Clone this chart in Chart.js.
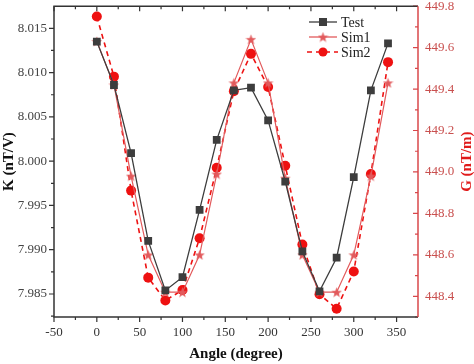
<!DOCTYPE html>
<html>
<head>
<meta charset="utf-8">
<script src="https://cdn.jsdelivr.net/npm/chart.js@4.4.1/dist/chart.umd.min.js"></script>
<style>
  html, body { margin: 0; padding: 0; background: #fff; }
  #wrap { width: 474px; height: 364px; position: relative; }
</style>
</head>
<body>
<div id="wrap"><canvas id="chart"></canvas></div>
<script>
// --- data -----------------------------------------------------------------
const angles = [0, 20, 40, 60, 80, 100, 120, 140, 160, 180, 200, 220, 240, 260, 280, 300, 320, 340];
const testK  = [8.0135, 8.0086, 8.0009, 7.9910, 7.9854, 7.9869, 7.9945, 8.0024, 8.0080,
                8.0083, 8.0046, 7.9977, 7.9898, 7.9853, 7.9891, 7.9982, 8.0080, 8.0133];
const sim1G  = [449.63, 449.42, 448.98, 448.60, 448.42, 448.42, 448.60, 448.99, 449.43,
                449.64, 449.43, 448.97, 448.60, 448.42, 448.42, 448.60, 448.98, 449.43];
const sim2G  = [449.75, 449.46, 448.91, 448.49, 448.38, 448.43, 448.68, 449.02, 449.39,
                449.57, 449.41, 449.03, 448.65, 448.41, 448.34, 448.52, 448.99, 449.53];
const seriesNames = ['Test', 'Sim1', 'Sim2'];
const xTitle = 'Angle (degree)';
const kTitle = 'K (nT/V)';
const gTitle = 'G (nT/m)';

const SERIF = '"Liberation Serif", "Times New Roman", serif';
const C_TEST = '#3d3d3d';
const C_SIM1 = '#e25a5c';
const C_SIM2 = '#ee1111';
const C_RAXIS = '#d8474a';

// filled 5-point star used as the Sim1 marker
function makeStar(size, color) {
    const c = document.createElement('canvas');
    c.width = size; c.height = size;
    const g = c.getContext('2d');
    const cx = size / 2, cy = size / 2 + 0.5, ro = size / 2, ri = ro * 0.42;
    g.beginPath();
    for (let i = 0; i < 10; i++) {
        const r = i % 2 ? ri : ro;
        const a = -Math.PI / 2 + i * Math.PI / 5;
        g.lineTo(cx + r * Math.cos(a), cy + r * Math.sin(a));
    }
    g.closePath();
    g.fillStyle = color;
    g.fill();
    return c;
}
const starImg = makeStar(11, C_SIM1);

const pts = ys => angles.map((x, i) => ({ x, y: ys[i] }));

// no label overflow padding, the plot box is fixed by hand
function noPad(s) { s.paddingTop = 0; s.paddingBottom = 0; s.paddingLeft = 0; s.paddingRight = 0; }

// frame, inner/outer ticks, legend and right title
const framePlugin = {
    id: 'frame',
    afterDraw(chart) {
        const { ctx, chartArea: a, scales } = chart;
        ctx.save();

        function minorVals(scale) {
            const v = scale.ticks.map(t => t.value);
            const out = [];
            const step = v[1] - v[0];
            for (let i = 0; i < v.length - 1; i++) out.push((v[i] + v[i + 1]) / 2);
            if (v[0] - step / 2 > scale.min) out.push(v[0] - step / 2);
            if (v[v.length - 1] + step / 2 < scale.max) out.push(v[v.length - 1] + step / 2);
            return out;
        }

        ctx.lineWidth = 1.2;
        // x ticks: bottom outward, top inward
        ctx.strokeStyle = '#333';
        ctx.beginPath();
        scales.x.ticks.forEach(t => {
            const px = scales.x.getPixelForValue(t.value);
            ctx.moveTo(px, a.bottom); ctx.lineTo(px, a.bottom + 5);
            ctx.moveTo(px, a.top); ctx.lineTo(px, a.top + 5);
        });
        minorVals(scales.x).forEach(v => {
            const px = scales.x.getPixelForValue(v);
            ctx.moveTo(px, a.bottom); ctx.lineTo(px, a.bottom + 3);
            ctx.moveTo(px, a.top); ctx.lineTo(px, a.top + 3);
        });
        // left ticks outward
        scales.y.ticks.forEach(t => {
            const py = scales.y.getPixelForValue(t.value);
            ctx.moveTo(a.left - 5, py); ctx.lineTo(a.left, py);
        });
        minorVals(scales.y).forEach(v => {
            const py = scales.y.getPixelForValue(v);
            ctx.moveTo(a.left - 3, py); ctx.lineTo(a.left, py);
        });
        ctx.stroke();

        // right ticks inward, red
        ctx.strokeStyle = C_RAXIS;
        ctx.beginPath();
        scales.y1.ticks.forEach(t => {
            const py = scales.y1.getPixelForValue(t.value);
            ctx.moveTo(a.right - 5, py); ctx.lineTo(a.right, py);
        });
        minorVals(scales.y1).forEach(v => {
            const py = scales.y1.getPixelForValue(v);
            ctx.moveTo(a.right - 3, py); ctx.lineTo(a.right, py);
        });
        ctx.stroke();

        // frame
        ctx.lineWidth = 1.5;
        ctx.strokeStyle = '#333';
        ctx.beginPath();
        ctx.moveTo(a.right, a.top); ctx.lineTo(a.left, a.top);
        ctx.lineTo(a.left, a.bottom); ctx.lineTo(a.right, a.bottom);
        ctx.stroke();
        ctx.strokeStyle = C_RAXIS;
        ctx.beginPath();
        ctx.moveTo(a.right, a.top); ctx.lineTo(a.right, a.bottom);
        ctx.stroke();

        // right axis title, reading bottom to top
        ctx.save();
        ctx.translate(467, (a.top + a.bottom) / 2);
        ctx.rotate(-Math.PI / 2);
        ctx.font = 'bold 15px ' + SERIF;
        ctx.fillStyle = '#e01b1b';
        ctx.textAlign = 'center';
        ctx.textBaseline = 'middle';
        ctx.fillText(gTitle, 0, 0);
        ctx.restore();

        // legend: line + marker + label
        const lx0 = 309, lx1 = 337, mx = 323, tx = 341;
        const rows = [22, 37, 52];
        ctx.font = '14px ' + SERIF;
        ctx.textBaseline = 'middle';
        ctx.textAlign = 'left';
        // Test
        ctx.lineWidth = 1.3; ctx.strokeStyle = C_TEST; ctx.setLineDash([]);
        ctx.beginPath(); ctx.moveTo(lx0, rows[0]); ctx.lineTo(lx1, rows[0]); ctx.stroke();
        ctx.fillStyle = C_TEST; ctx.fillRect(mx - 4, rows[0] - 4, 8, 8);
        // Sim1
        ctx.strokeStyle = C_SIM1;
        ctx.beginPath(); ctx.moveTo(lx0, rows[1]); ctx.lineTo(lx1, rows[1]); ctx.stroke();
        ctx.drawImage(starImg, mx - 5.5, rows[1] - 5.5);
        // Sim2
        ctx.strokeStyle = C_SIM2; ctx.lineWidth = 1.6; ctx.setLineDash([5, 4]);
        ctx.beginPath(); ctx.moveTo(lx0 - 2, rows[2]); ctx.lineTo(lx1 + 1, rows[2]); ctx.stroke();
        ctx.setLineDash([]);
        ctx.fillStyle = C_SIM2;
        ctx.beginPath(); ctx.arc(mx, rows[2], 4.5, 0, Math.PI * 2); ctx.fill();
        ctx.fillStyle = '#222';
        seriesNames.forEach((n, i) => ctx.fillText(n, tx, rows[i] + 1));

        ctx.restore();
    }
};

new Chart(document.getElementById('chart'), {
    type: 'line',
    data: {
        datasets: [
            {
                label: seriesNames[0],
                data: pts(testK),
                yAxisID: 'y',
                borderColor: C_TEST,
                backgroundColor: C_TEST,
                borderWidth: 1.3,
                pointStyle: 'rect',
                pointRadius: 5.5,
                pointBorderWidth: 0,
                tension: 0
            },
            {
                label: seriesNames[1],
                data: pts(sim1G),
                yAxisID: 'y1',
                borderColor: C_SIM1,
                backgroundColor: C_SIM1,
                borderWidth: 1.2,
                pointStyle: starImg,
                pointRadius: 5,
                tension: 0
            },
            {
                label: seriesNames[2],
                data: pts(sim2G),
                yAxisID: 'y1',
                borderColor: C_SIM2,
                backgroundColor: C_SIM2,
                borderWidth: 1.6,
                borderDash: [5, 4],
                pointStyle: 'circle',
                pointRadius: 5,
                pointBorderWidth: 0,
                tension: 0
            }
        ]
    },
    options: {
        responsive: true,
        maintainAspectRatio: false,
        animation: false,
        layout: { padding: { top: 5, left: 0, right: 0, bottom: 0 } },
        plugins: { legend: { display: false }, tooltip: { enabled: false } },
        scales: {
            x: {
                type: 'linear',
                min: -50, max: 375,
                grid: { display: false, drawTicks: false },
                border: { display: false },
                ticks: {
                    stepSize: 50, includeBounds: false, padding: 8,
                    color: '#333', font: { family: SERIF, size: 13 },
                    maxRotation: 0
                },
                title: {
                    display: true, text: xTitle, color: '#111',
                    font: { family: SERIF, size: 15, weight: 'bold' },
                    padding: { top: 0, bottom: 1 }
                },
                afterFit(s) { noPad(s); s.height = 47; }
            },
            y: {
                type: 'linear',
                position: 'left',
                min: 7.9824, max: 8.0175,
                grid: { display: false, drawTicks: false },
                border: { display: false },
                ticks: {
                    stepSize: 0.005, includeBounds: false, padding: 7,
                    color: '#444', font: { family: SERIF, size: 13 },
                    callback: v => v.toFixed(3)
                },
                title: {
                    display: true, text: kTitle, color: '#111',
                    font: { family: SERIF, size: 15, weight: 'bold' },
                    padding: 0
                },
                afterFit(s) { noPad(s); s.width = 54; }
            },
            y1: {
                type: 'linear',
                position: 'right',
                min: 448.3, max: 449.8,
                grid: { display: false, drawTicks: false },
                border: { display: false },
                ticks: {
                    stepSize: 0.2, includeBounds: false, padding: 7,
                    color: '#c9504f', font: { family: SERIF, size: 13 },
                    callback: v => v.toFixed(1)
                },
                afterFit(s) { noPad(s); s.width = 56; }
            }
        }
    },
    plugins: [framePlugin]
});
</script>
</body>
</html>
